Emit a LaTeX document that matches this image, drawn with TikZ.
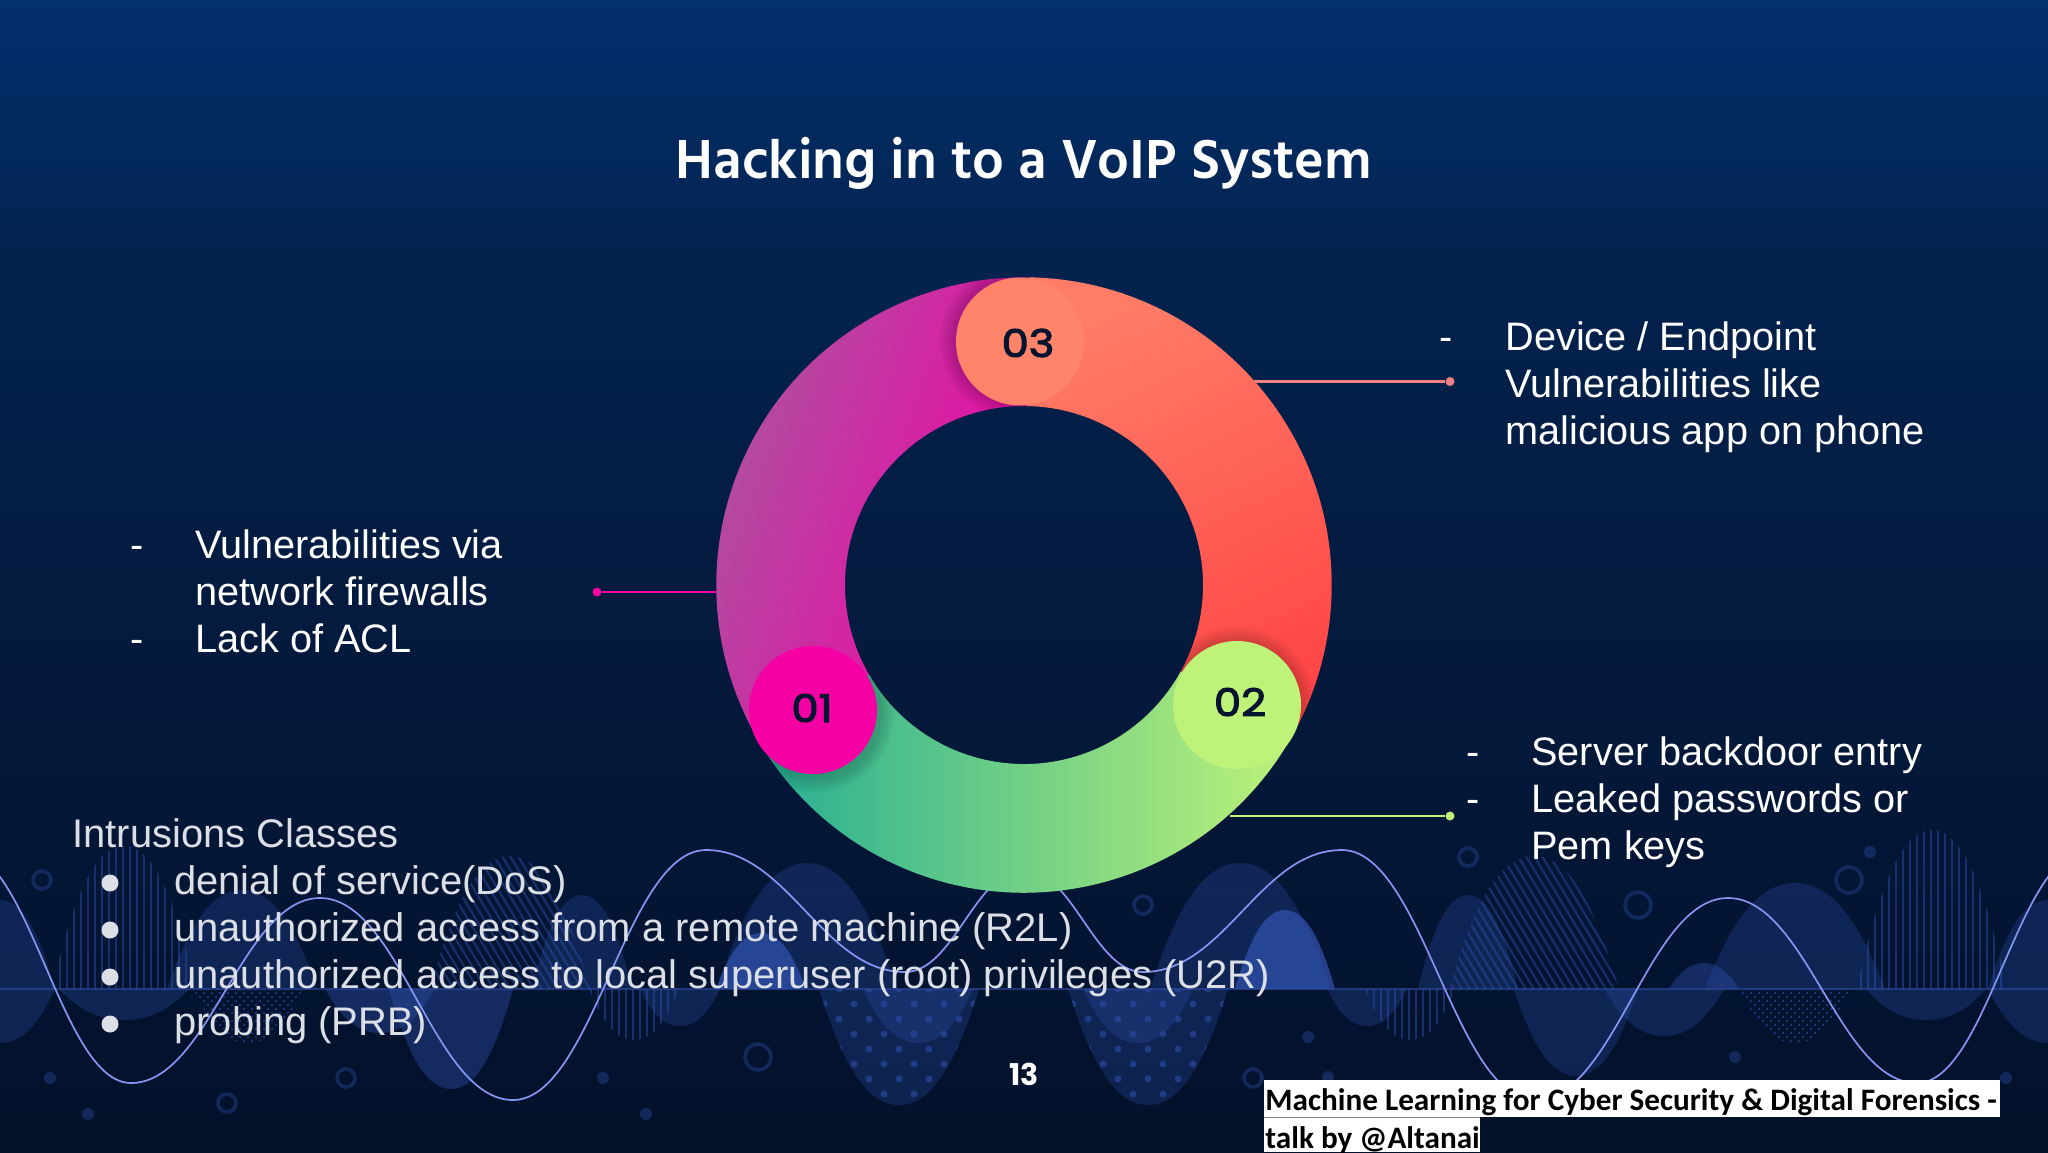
\documentclass[tikz,border=0pt]{standalone}
\usepackage{fontspec}
\setmainfont{Liberation Sans}
\newfontfamily\popfont{Poppins}
\newfontfamily\badgefont{Poppins}[FakeStretch=1.14,FakeBold=3]
\newfontfamily\titlefont{Hind Madurai}
\newfontfamily\footfont{Carlito}
\definecolor{bgtop}{HTML}{03306F}
\definecolor{bgupper}{HTML}{03234F}
\definecolor{bgmid}{HTML}{041B40}
\definecolor{bgbot}{HTML}{03112A}
\definecolor{wavecol}{HTML}{2E4DA6}
\definecolor{linecol}{HTML}{8596F2}
\definecolor{inkcol}{HTML}{04142E}
\definecolor{textgray}{HTML}{DCE0E6}
\definecolor{magcol}{HTML}{F500A5}
\definecolor{salmon}{HTML}{FF846A}
\definecolor{limecol}{HTML}{BEF278}
\definecolor{leadred}{HTML}{F08082}
\pgfdeclareverticalshading{bgshade}{100bp}{color(0bp)=(bgbot); color(25bp)=(bgbot); color(50bp)=(bgmid); color(64bp)=(bgupper); color(75bp)=(bgtop); color(100bp)=(bgtop)}
\newcommand{\bellpath}[3]{({#1-#2},989) .. controls ({#1-0.72*#2},{989-0.62*(#3)}) and ({#1-0.42*#2},{989-(#3)}) .. (#1,{989-(#3)}) .. controls ({#1+0.42*#2},{989-(#3)}) and ({#1+0.72*#2},{989-0.62*(#3)}) .. ({#1+#2},989) -- cycle}
\newcommand{\bell}[4]{\path[#4] \bellpath{#1}{#2}{#3};}
\newcommand{\vstripes}[3]{\begin{scope}\clip \bellpath{#1}{#2}{#3};
  \foreach \sx in {-120,-113,...,120}{\draw[stripeline] ({#1+\sx},989) -- ({#1+\sx},{989-(#3)});}\end{scope}}
\newcommand{\dstripes}[3]{\begin{scope}\clip \bellpath{#1}{#2}{#3};
  \foreach \sx in {-280,-272,...,120}{\draw[stripeline,line width=1pt] ({#1+\sx},{989-(#3)}) -- ({#1+\sx+abs(#3)*0.6},989);}\end{scope}}
\newcommand{\dotbell}[6]{\begin{scope}\clip \bellpath{#1}{#2}{#3};
  \foreach \di in {-8,...,8}{\foreach \dj in {0,...,#6}{\fill[dotfill] ({#1+\di*#4+mod(\dj,2)*#4/2},{989+\dj*#4/2}) circle[radius=#5];}}\end{scope}}
\newcommand{\segpath}[2]{([shift={(#1:307.7)}]c) arc[start angle=#1,end angle=#2,radius=307.7] -- ([shift={(#2:179)}]c) arc[start angle=#2,end angle=#1,radius=179] -- cycle}
\tikzset{
  softblob/.style={fill=wavecol,fill opacity=.30},
  midblob/.style={fill=wavecol,fill opacity=.42},
  brightblob/.style={fill=wavecol,fill opacity=.8},
  stripeline/.style={draw=wavecol,draw opacity=.5,line width=1.3pt},
  dotfill/.style={fill=wavecol,fill opacity=.6},
  decoring/.style={draw=wavecol,draw opacity=.38,line width=1.8pt,fill=none},
  decodot/.style={fill=wavecol,fill opacity=.38},
  wave/.style={draw=linecol,line width=.85pt},
  body/.style={font=\fontsize{19.85}{24}\selectfont,anchor=base west,inner sep=0pt,text=white},
  lower/.style={font=\fontsize{19.95}{24}\selectfont,anchor=base west,inner sep=0pt,text=textgray},
  badge/.style={circle,minimum size=64pt,inner sep=0pt},
  badgetext/.style={inner sep=0pt,text=inkcol,font=\badgefont\fontsize{19}{19}\selectfont},
  leader/.style={line width=1.2pt},
  tipdot/.style={circle,minimum size=4.5pt,inner sep=0pt},
  bulletdot/.style={circle,fill=textgray,minimum size=8.5pt,inner sep=0pt},
  shadowfill/.style={black,fill opacity=.035},
}
\begin{document}
\begin{tikzpicture}[x=0.5pt,y=-0.5pt]
\useasboundingbox (0,0) rectangle (2048,1152);
\shade[shading=bgshade] (0,0) rectangle (2048,1152);

% background waves
\begin{scope}
\clip (0,0) rectangle (2048,1152);
\bell{0}{55}{89}{softblob}\bell{0}{55}{-54}{softblob}
\bell{124}{65}{-31}{softblob}
\bell{242}{75}{99}{softblob}
\bell{380}{55}{-44}{midblob}
\bell{451}{62}{-100}{midblob}
\bell{582}{50}{94}{softblob}
\bell{680}{40}{-37}{softblob}
\bell{807}{90}{126}{softblob}
\bell{761}{45}{56}{brightblob}
\bell{918}{55}{-54}{softblob}
\bell{1138}{55}{-54}{softblob}
\bell{1240}{90}{126}{softblob}
\bell{1285}{50}{79}{brightblob}
\bell{1367}{40}{-37}{softblob}
\bell{1468}{50}{94}{softblob}
\bell{1576}{62}{-87}{softblob}
\bell{1664}{60}{-47}{softblob}
\bell{1704}{35}{26}{midblob}
\bell{1795}{90}{106}{softblob}
\bell{1926}{60}{-31}{softblob}
\bell{2048}{60}{89}{softblob}\bell{2048}{60}{-54}{softblob}
\vstripes{124}{72}{143}
\vstripes{634}{45}{-51}
\vstripes{1410}{45}{-51}
\vstripes{1932}{75}{159}
\dstripes{510}{80}{133}
\dstripes{1534}{85}{133}
\bell{899}{80}{-116}{softblob}
\bell{1148}{80}{-116}{softblob}
\dotbell{899}{80}{-116}{30}{3.5}{8}
\dotbell{1148}{80}{-116}{30}{3.5}{8}
\dotbell{248}{55}{-54}{8}{1.4}{14}
\dotbell{1795}{55}{-54}{8}{1.4}{14}
\end{scope}
\draw[draw=wavecol,draw opacity=.6,line width=.6pt] (0,989) -- (2048,989);

\foreach \px/\py/\pr in {42/880/9,346/1078/9,227/1103/9,758/1057/13,1143/905/9,1468/857/9,1638/905/13,1849/880/13,1253/1078/9}{\draw[decoring] (\px,\py) circle[radius=\pr];}
\foreach \px/\py in {50/1078,88/1114,603/1078,646/1114,1308/1037,1735/1057,1870/852,2006/1078,1328/1077}{\fill[decodot] (\px,\py) circle[radius=6];}

% sine line
\draw[wave] (-40,850) .. controls (30,850) and (61,1083) .. (131,1083)
 .. controls (209,1083) and (242,898) .. (320,898)
 .. controls (400,898) and (433,1100) .. (513,1100)
 .. controls (593,1100) and (626,850) .. (706,850)
 .. controls (788,850) and (823,972) .. (905,972)
 .. controls (954,972) and (975,870) .. (1024,870)
 .. controls (1073,870) and (1094,972) .. (1143,972)
 .. controls (1225,972) and (1260,850) .. (1342,850)
 .. controls (1422,850) and (1455,1100) .. (1535,1100)
 .. controls (1615,1100) and (1648,898) .. (1728,898)
 .. controls (1806,898) and (1839,1083) .. (1917,1083)
 .. controls (1987,1083) and (2018,850) .. (2088,850);

% title
\node[anchor=base,inner sep=0pt,text=white,font=\titlefont\bfseries\fontsize{28.2}{29}\selectfont] (title) at (1024,178) {Hacking in to a VoIP System};

% leaders
\coordinate (c) at (1024,585);
\coordinate (ringL) at (716,592);
\coordinate (ringR) at (1254,381.5);
\coordinate (ringG) at (1230,816);
\node[tipdot,fill=magcol] (tipL) at (597,592) {};
\node[tipdot,fill=leadred] (tipR) at (1450,381.5) {};
\node[tipdot,fill=limecol] (tipG) at (1450,816) {};
\draw[leader,draw=magcol] (tipL) -- (ringL);
\draw[leader,draw=leadred] (tipR) -- (ringR);
\draw[leader,draw=limecol] (tipG) -- (ringG);

% ring segments, each with the shadow that falls on it
\path[shade,left color={rgb,255:red,166;green,90;blue,160},right color={rgb,255:red,242;green,0;blue,165},shading angle=70] \segpath{149}{272};
\begin{scope}
\clip \segpath{149}{272};
\foreach \sr in {66,69,72,75,78}{\fill[shadowfill] (1018,341) circle[radius=\sr];}
\end{scope}
\path[shade,top color={rgb,255:red,255;green,124;blue,102},bottom color={rgb,255:red,255;green,70;blue,70},shading angle=25] \segpath{271}{390};
\begin{scope}
\clip \segpath{271}{390};
\foreach \sr in {66,69,72,75,78}{\fill[shadowfill] (1237,705) circle[radius=\sr];}
\end{scope}
\path[shade,left color={rgb,255:red,38;green,174;blue,148},right color={rgb,255:red,190;green,242;blue,120}] \segpath{29}{150};
\begin{scope}
\clip \segpath{29}{150};
\foreach \sr in {66,69,72,75,78}{\fill[shadowfill] (816,714) circle[radius=\sr];}
\end{scope}

\node[badge,fill=limecol] (b2) at (1237,705) {};
\node[badge,fill=magcol] (b1) at (813,710) {};
\node[badge,fill=salmon] (b3) at (1020,341.5) {};
\node[badgetext] (t2) at (1240,702) {02};
\node[badgetext] (t1) at (812,708) {01};
\node[badgetext] (t3) at (1028,343) {03};

% side texts
\node[body] (r1d) at (1439,350) {-};
\node[body] (r1a) at (1505,350) {Device / Endpoint};
\node[body] (r1b) at (1505,397) {Vulnerabilities like};
\node[body] (r1c) at (1505,444) {malicious app on phone};

\node[body] (l1d) at (130,558) {-};
\node[body] (l1a) at (195,558) {Vulnerabilities via};
\node[body] (l1b) at (195,605) {network firewalls};
\node[body] (l2d) at (130,652) {-};
\node[body] (l1c) at (195,652) {Lack of ACL};

\node[body] (g1d) at (1466,765) {-};
\node[body] (g1a) at (1531,765) {Server backdoor entry};
\node[body] (g2d) at (1466,812) {-};
\node[body] (g1b) at (1531,812) {Leaked passwords or};
\node[body] (g1c) at (1531,859) {Pem keys};

% intrusion list
\node[lower] (ihead) at (72,847) {Intrusions Classes};
\node[bulletdot] (i1d) at (110,883) {};
\node[bulletdot] (i2d) at (110,930) {};
\node[bulletdot] (i3d) at (110,977) {};
\node[bulletdot] (i4d) at (110,1024) {};
\node[lower] (i1) at (174,894) {denial of service(DoS)};
\node[lower] (i2) at (174,941) {unauthorized access from a remote machine (R2L)};
\node[lower] (i3) at (174,988) {unauthorized access to local superuser (root) privileges (U2R)};
\node[lower] (i4) at (174,1035) {probing (PRB)};

% page number
\node[anchor=base,inner sep=0pt,text=white,font=\popfont\bfseries\fontsize{15}{15}\selectfont] (pg) at (1024,1085) {13};

% footer
\path[fill=white] (1264,1080) rectangle (2000,1117);
\path[fill=white] (1264,1118) rectangle (1480,1152);
\draw[draw=gray,line width=.5pt] (1264,1117.5) -- (1480,1117.5);
\node[anchor=base west,inner sep=0pt,text=black,font=\footfont\bfseries\fontsize{15.6}{15.6}\selectfont] (f1) at (1265,1110) {Machine Learning for Cyber Security \& Digital Forensics -};
\node[anchor=base west,inner sep=0pt,text=black,font=\footfont\bfseries\fontsize{15.6}{15.6}\selectfont] (f2) at (1265,1148) {talk by @Altanai};
\end{tikzpicture}
\end{document}
